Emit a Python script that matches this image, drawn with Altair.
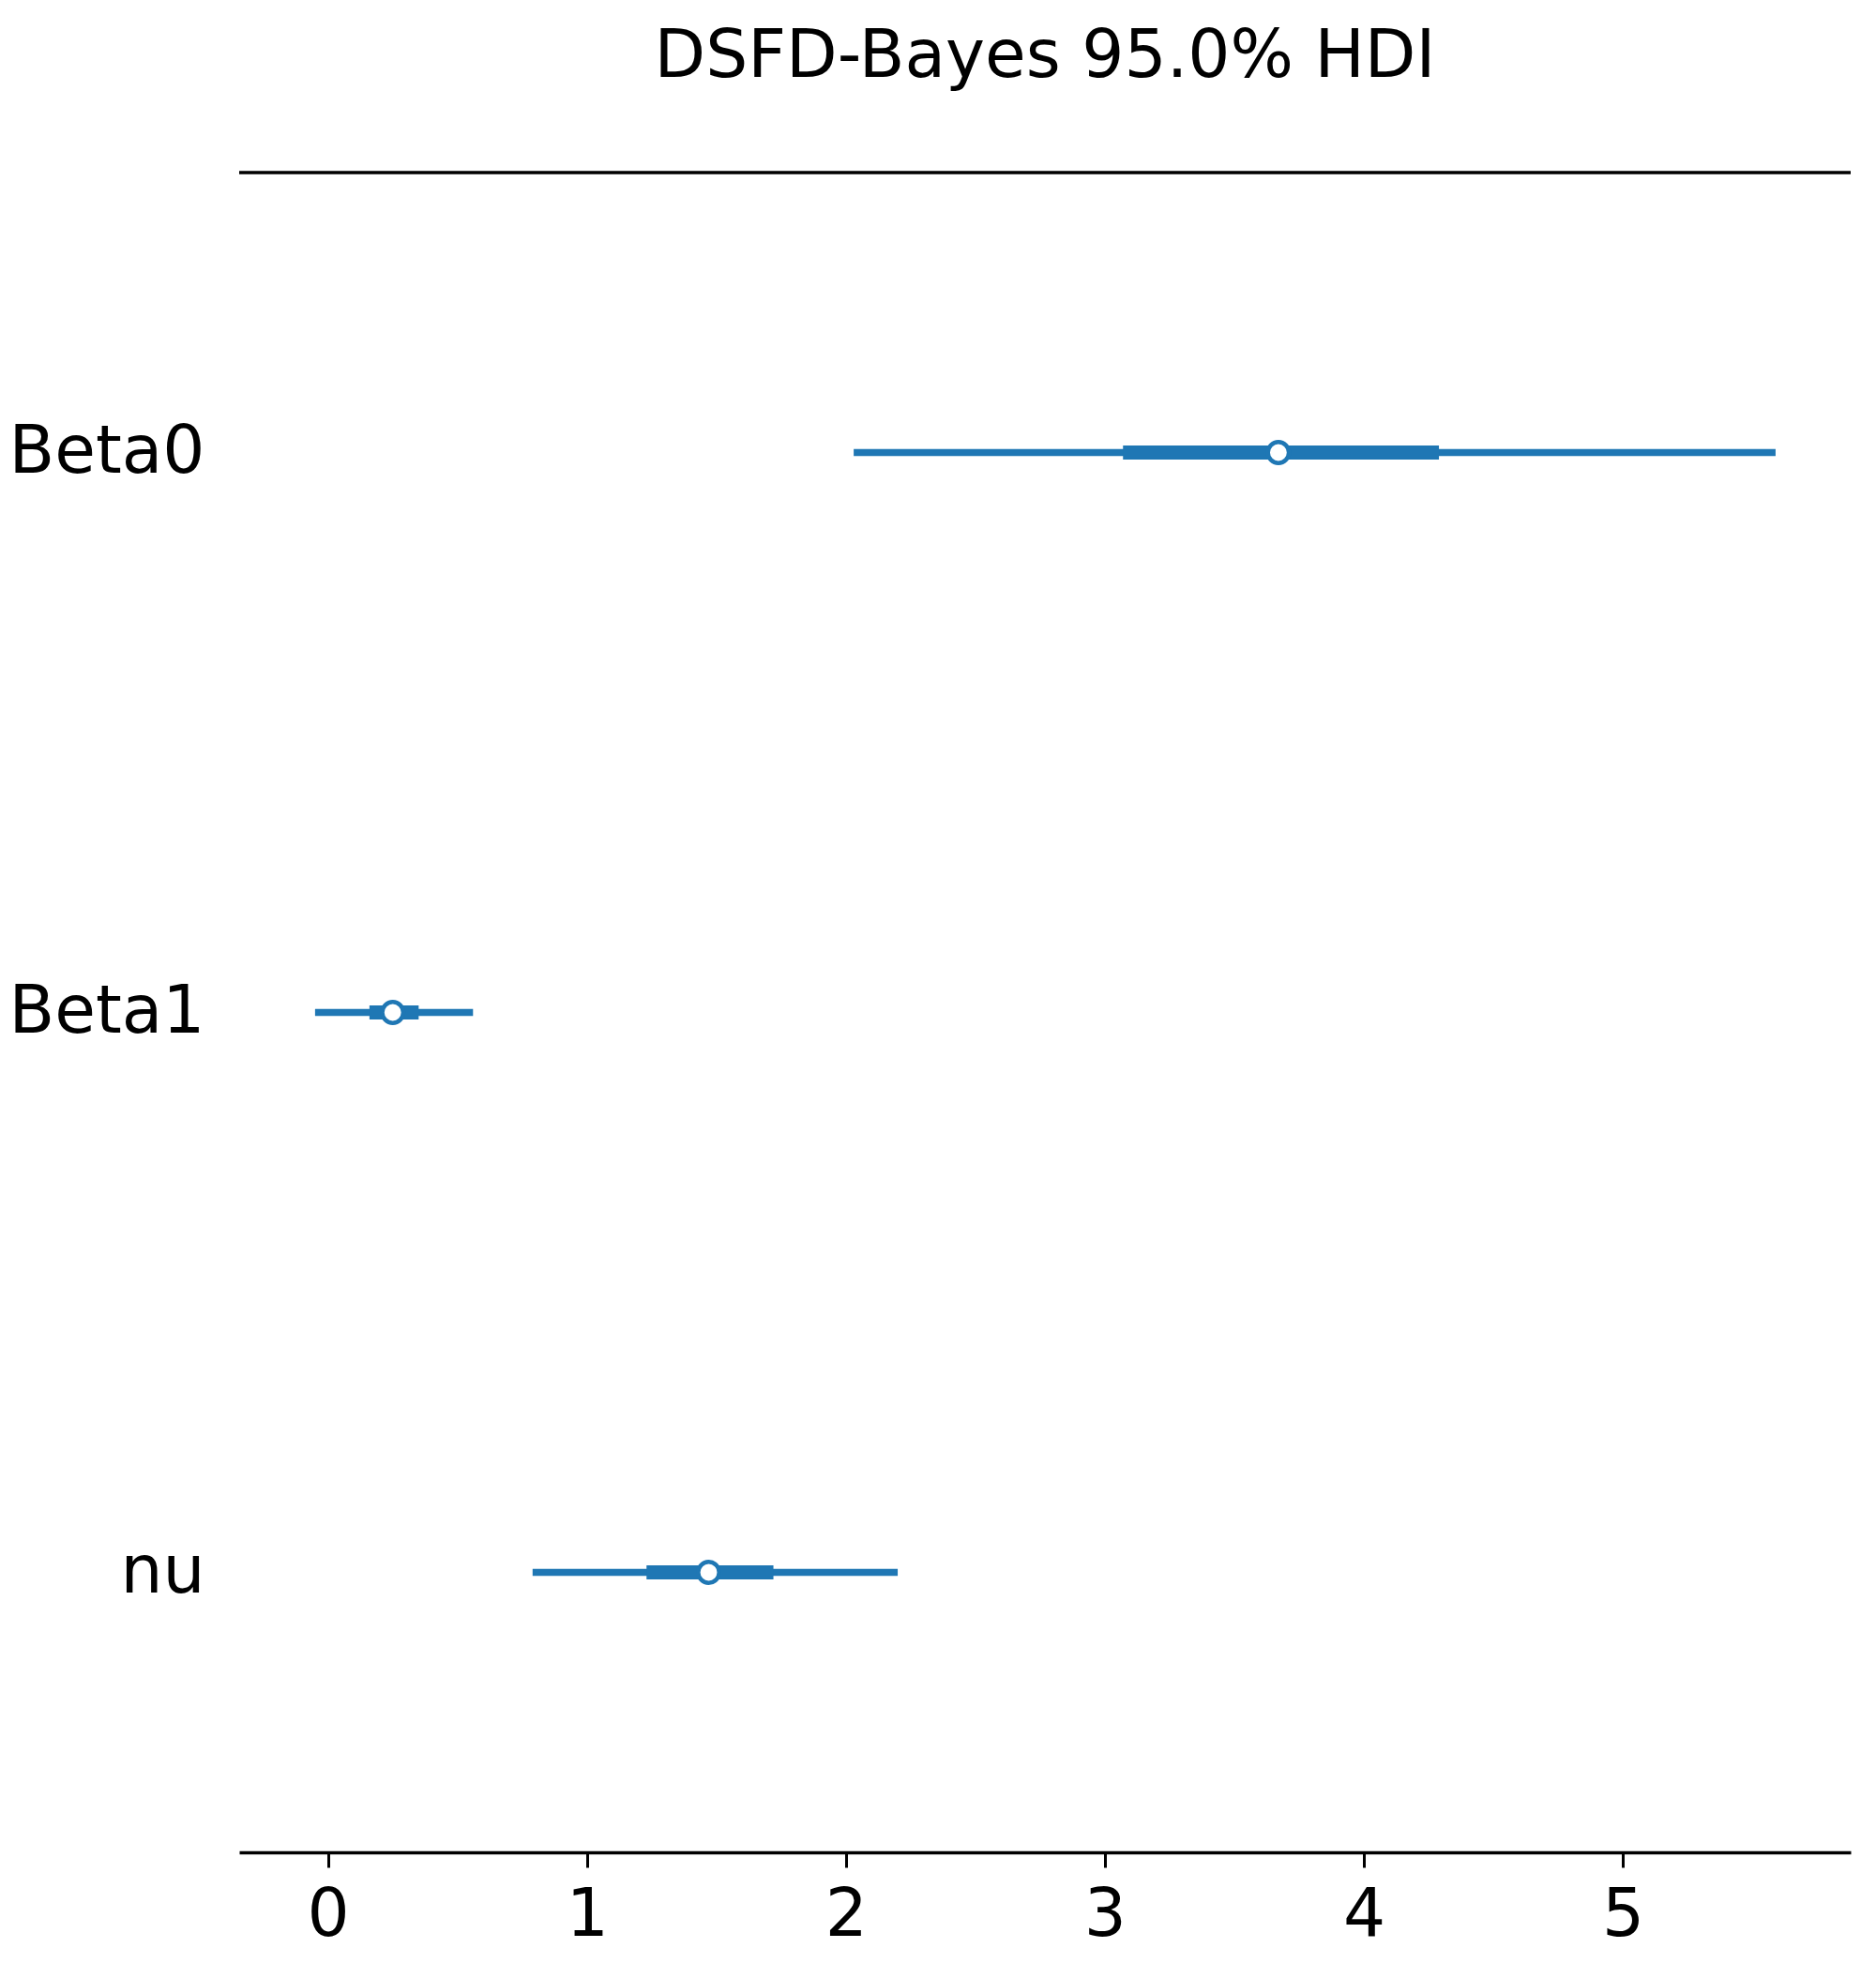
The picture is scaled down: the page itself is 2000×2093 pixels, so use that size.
import altair as alt
import pandas as pd

# Data
params = ["Beta0", "Beta1", "nu"]
hdi_low = [2.03, -0.05, 0.79]
hdi_high = [5.59, 0.56, 2.20]
iqr_low = [3.07, 0.16, 1.23]
iqr_high = [4.29, 0.35, 1.72]
median = [3.67, 0.25, 1.47]
x_ticks = [0, 1, 2, 3, 4, 5]

df = pd.DataFrame({
    "param": params,
    "hdi_low": hdi_low,
    "hdi_high": hdi_high,
    "iqr_low": iqr_low,
    "iqr_high": iqr_high,
    "median": median,
})

BLUE = "#1f77b4"
FONT = "DejaVu Sans"
FS = 71
W, H = 1718, 1791

xscale = alt.Scale(domain=[-0.343, 5.88], nice=False, zero=False)
yenc = alt.Y(
    "param:N",
    sort=params,
    title=None,
    axis=alt.Axis(
        domain=False, ticks=False, tickSize=0, labelPadding=37, labelLimit=0,
        labelFontSize=FS, labelFont=FONT, labelColor="black", grid=False,
    ),
)
xaxis = alt.Axis(
    values=x_ticks, format="d", title=None, grid=False,
    domainColor="black", domainWidth=3.5,
    tickColor="black", tickWidth=3, tickSize=16,
    labelFontSize=FS, labelFont=FONT, labelColor="black", labelPadding=16,
)

base = alt.Chart(df)

hdi = base.mark_rule(color=BLUE, strokeWidth=7.3).encode(
    x=alt.X("hdi_low:Q", scale=xscale, axis=xaxis),
    x2="hdi_high:Q",
    y=yenc,
)
iqr = base.mark_rule(color=BLUE, strokeWidth=15).encode(
    x=alt.X("iqr_low:Q", scale=xscale),
    x2="iqr_high:Q",
    y=alt.Y("param:N", sort=params),
)
pts = base.mark_point(
    shape="circle", filled=True, fill="white", stroke=BLUE,
    strokeWidth=4.5, size=500, opacity=1,
).encode(
    x=alt.X("median:Q", scale=xscale),
    y=alt.Y("param:N", sort=params),
)
top_spine = alt.Chart(alt.Data(values=[{"a": 1}])).mark_rule(
    color="black", strokeWidth=3.5
).encode(x=alt.value(0), x2=alt.value(W), y=alt.value(0))

chart = alt.layer(hdi, iqr, pts, top_spine).properties(
    width=W,
    height=H,
    title=alt.TitleParams(
        "DSFD-Bayes 95.0% HDI", font=FONT, fontSize=FS, fontWeight="normal",
        color="black", anchor="middle", baseline="alphabetic", offset=29,
    ),
    autosize=alt.AutoSizeParams(type="none"),
    padding={"left": 247, "top": 176, "right": 19, "bottom": 110},
    background="white",
).configure_view(stroke="transparent", strokeWidth=0)

chart.save("out.html", embed_options={"renderer": "svg", "actions": False})
